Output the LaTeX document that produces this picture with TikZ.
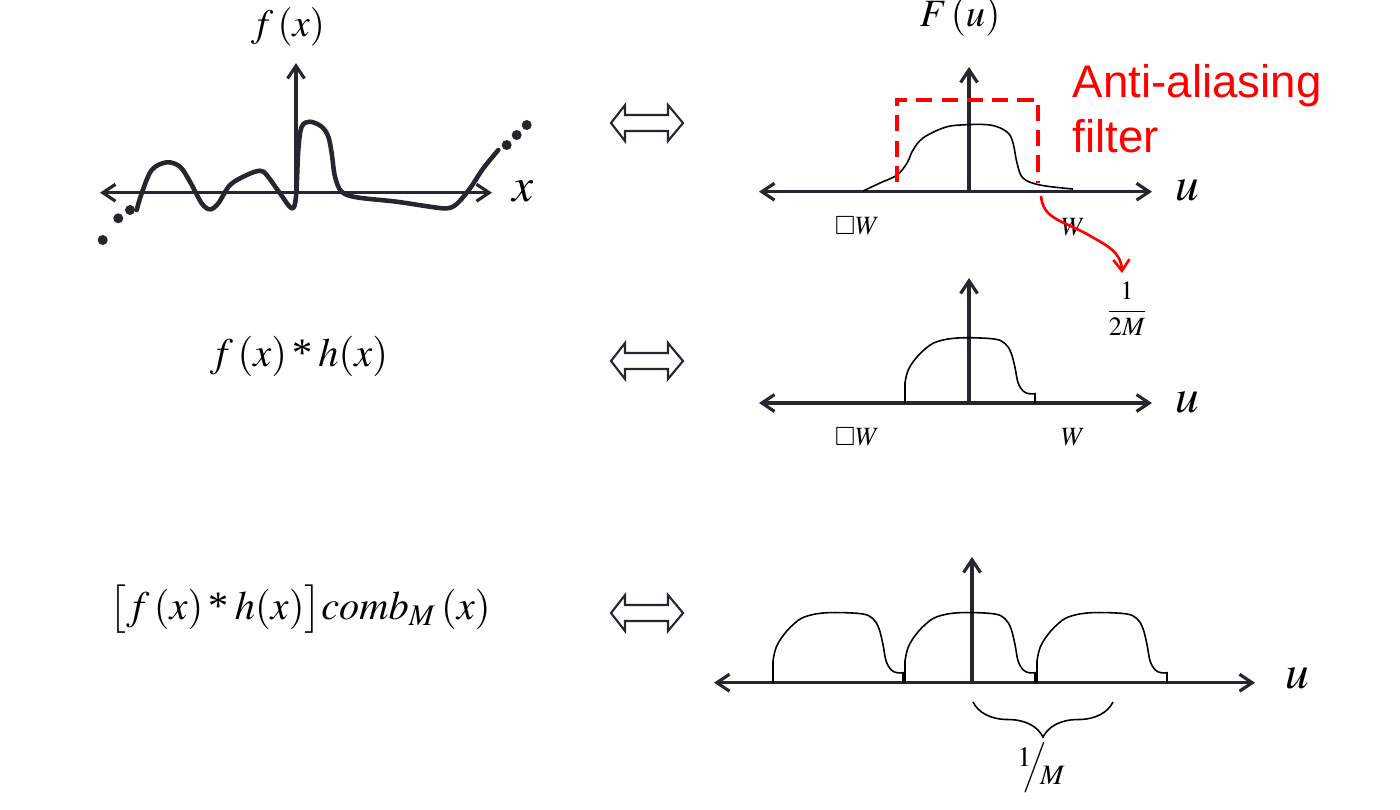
\documentclass[tikz,border=0pt]{standalone}
\usepackage{amsmath,amssymb}
\usepackage{mathptmx}
\usepackage{fontspec}
\newfontfamily\arialfont{Liberation Sans}
\newfontfamily\timesfont{Liberation Serif}
\usetikzlibrary{arrows.meta,calc,decorations.pathreplacing}
\definecolor{axisgray}{RGB}{38,38,48}
\newcommand{\cstar}{\mathbin{\text{\timesfont *}}}
\tikzset{
  barb/.tip={Straight Barb[length=3.6pt,width=4.8pt]},
  axis/.style={draw=axisgray,line width=0.9pt,barb-barb},
  yaxis/.style={draw=axisgray,line width=0.9pt,-barb},
  sig/.style={draw=axisgray,line width=1.3pt,line join=round,line cap=round},
  spec/.style={draw=black,line width=0.45pt},
  dot/.style={circle,fill=axisgray,inner sep=0pt,minimum size=1mm},
  lbl/.style={font=\fontsize{11}{13}\selectfont,inner sep=0pt},
  axlbl/.style={font=\fontsize{13.5}{15}\selectfont,inner sep=0pt},
  tick/.style={font=\fontsize{7.5}{9}\selectfont,inner sep=0pt},
  eqn/.style={font=\fontsize{11.5}{13}\selectfont,inner sep=0pt},
  redbox/.style={draw=red,line width=1pt,dash pattern=on 4.6pt off 2.6pt},
  redarrow/.style={draw=red,line width=0.75pt,-{Straight Barb[length=3.2pt,width=4.6pt]}},
  filtlbl/.style={text=red,font=\arialfont\fontsize{13}{15.6}\selectfont,inner sep=0pt},
  iff/.pic={
    \draw[axisgray,line width=0.6pt] (-36,0) -- (-22,-18) -- (-22,-8) -- (21,-8) -- (21,-18)
      -- (36,0) -- (21,18) -- (21,8) -- (-22,8) -- (-22,18) -- cycle;
  },
  lobe/.pic={
    \draw[spec] (0,0) -- (0,-22) -- plot[smooth,tension=0.6] coordinates {(0,-22) (3,-35) (10,-47)
      (20,-58) (32,-66) (54,-70) (88,-69) (100,-64) (106,-54) (110,-38) (113,-22) (118,-13)
      (124,-10) (130,-10)} -- (130,0);
  }
}

\begin{document}
\begin{tikzpicture}[x=0.1mm,y=-0.1mm]
  \useasboundingbox (0,0) rectangle (1400,809);

  % f(x) and its spectrum
  \draw[axis] (100,192.7) -- (492,192.7);
  \draw[yaxis] (296,192.7) -- (296,63);
  \draw[sig] plot[smooth,tension=0.55] coordinates {(136.7,210) (141.7,193.3) (151.7,170)
    (166.7,162.3) (180,166.7) (190,181.7) (201.7,203.3) (210,209.3) (218.3,203.3) (230,185)
    (246.7,175) (260,170.7) (266.7,175) (280,193.3) (291.7,208.3) (296,196.7) (298.3,150)
    (301.7,126.7) (310,121.7) (321.7,126.7) (328.3,136.7) (331.7,153.3) (335,176.7)
    (341.7,191.7) (356.7,197.3) (396.7,201.7) (430,206.7) (446.7,208.3) (456.7,204)
    (470,188.3) (483.3,168.3) (498.3,150)};
  \node[dot] (dl1) at (130,210) {};
  \node[dot] (dl2) at (118.3,218.3) {};
  \node[dot] (dl3) at (102.7,240) {};
  \node[dot] (dr1) at (506.7,145) {};
  \node[dot] (dr2) at (516.7,135) {};
  \node[dot] (dr3) at (526.7,125) {};
  \node[lbl] (fx) at (288,27) {$f\,(x)$};
  \node[axlbl] (xlab) at (523,191) {$x$};
  \pic at (647,123) {iff};

  \draw[axis] (759,191.7) -- (1152,191.7);
  \draw[yaxis] (969,191.7) -- (969,67);
  \draw[spec] plot[smooth,tension=0.6] coordinates {(863,191) (880,183) (897,175) (907,163)
    (913,150) (923,138) (943,128) (960,125) (990,125) (1007,132) (1013,143) (1017,163)
    (1023,178) (1040,185) (1073,189)};
  \node[lbl] (Fu) at (960,17) {$F\,(u)$};
  \node[axlbl] (ulab1) at (1187,190) {$u$};
  \node[tick] (mw1) at (857,226) {$\square W$};
  \node[tick] (w1) at (1073,227) {$W$};

  % anti-aliasing window
  \draw[redbox] (897,182) -- (897,100) -- (1038,100) -- (1038,183);
  \node[filtlbl,anchor=base west] (aa) at (1072,97) {Anti-aliasing};
  \node[filtlbl,anchor=base west] (flt) at (1072,152) {filter};
  \node[tick] (half) at (1127,309) {$\dfrac{1}{2M}$};
  \coordinate (corner) at (1041,196);
  \coordinate (tip) at (1122,273);
  \draw[redarrow] (corner) .. controls (1043,218) and (1060,220) .. (1085,233)
    .. controls (1108,246) and (1121,252) .. (tip);

  % band limited
  \node[eqn] (conv) at (299,356) {$f\,(x)\cstar h(x)$};
  \pic at (647,361) {iff};
  \draw[axis] (759,403) -- (1152,403);
  \draw[yaxis] (969,403) -- (969,278);
  \pic[yscale=0.93] at (905,403) {lobe};
  \node[axlbl] (ulab2) at (1187,402) {$u$};
  \node[tick] (mw2) at (857,437) {$\square W$};
  \node[tick] (w2) at (1073,437) {$W$};

  % sampled
  \node[eqn] (samp) at (300,609) {$\bigl[f\,(x)\cstar h(x)\bigr]comb_{M}\,(x)$};
  \pic at (647,613) {iff};
  \draw[axis] (714,682.7) -- (1255,682.7);
  \draw[yaxis] (972,682.7) -- (972,557);
  \foreach \s in {773,905,1037}
    \pic at (\s,682.7) {lobe};
  \node[axlbl] (ulab3) at (1297,678) {$u$};
  \coordinate (b1) at (973,702);
  \coordinate (b2) at (1113,702);
  \draw[spec,decorate,decoration={brace,mirror,amplitude=3.5mm}] (b1) -- (b2);
  \node[tick,font=\fontsize{8}{10}\selectfont] (per) at (1041,768)
    {$\raisebox{0.3em}{$1$}\mkern-5mu\Big/\mkern-4mu\raisebox{-0.35em}{$M$}$};
\end{tikzpicture}
\end{document}
